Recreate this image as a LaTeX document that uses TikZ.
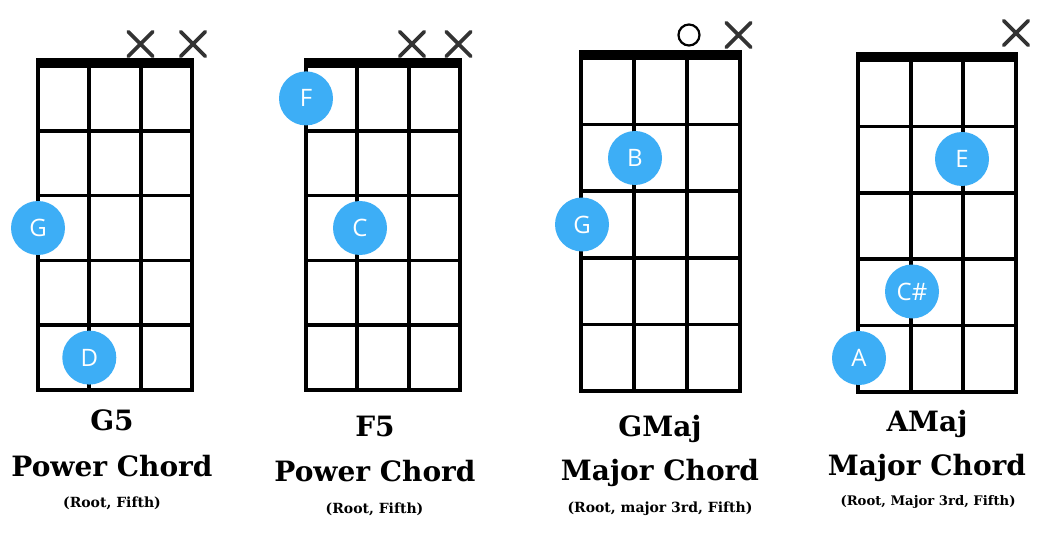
\documentclass[tikz,border=0pt]{standalone}
\usepackage{fontspec}
\setmainfont{DejaVu Serif}
\newfontfamily\fingfamily{Open Sans}
\usetikzlibrary{shapes.misc}
\definecolor{fingblue}{HTML}{3DAEF6}
\definecolor{muteclr}{HTML}{333333}
\tikzset{
  frame/.style={line width=4.2pt, line cap=rect},
  fret/.style={line width=3.5pt},
  nutbar/.style={fill=black, draw=none},
  fing/.style={circle, fill=fingblue, minimum size=54pt, inner sep=0pt, text=white,
    font=\fingfamily\fontsize{24}{26}\selectfont},
  mutex/.style={cross out, draw=muteclr, minimum size=21pt, inner sep=0pt, line width=3.6pt, line cap=round},
  opens/.style={circle, draw=black, minimum size=21pt, inner sep=0pt, line width=2.2pt},
  title/.style={anchor=base, font=\bfseries\fontsize{28}{30}\selectfont},
  sub/.style={anchor=base, font=\bfseries\fontsize{14}{16}\selectfont},
}
% #1 left, #2 right, #3 nut top, #4 bottom
\newcommand{\chordgrid}[4]{%
  \pgfmathsetmacro{\gtop}{#3+8}%
  \pgfmathsetmacro{\gh}{(#4-\gtop)/5}%
  \pgfmathsetmacro{\gw}{(#2-#1)/3}%
  \foreach \k in {1,...,4}{\draw[fret] (#1,{\gtop+\k*\gh}) -- (#2,{\gtop+\k*\gh});}
  \foreach \k in {1,2}{\draw[frame] ({#1+\k*\gw},\gtop) -- ({#1+\k*\gw},#4);}
  \draw[frame] (#1,\gtop) rectangle (#2,#4);
  \fill[nutbar] ({#1-2.1},#3) rectangle ({#2+2.1},{\gtop+0.5});
}
\begin{document}
\begin{tikzpicture}[x=1pt,y=-1pt]
\useasboundingbox (0,0) rectangle (1064,537);
\fill[white] (0,0) rectangle (1064,537);

% Chart 1: G5
\chordgrid{38}{192}{58}{390}
\node[mutex] (m1a) at (140.5,44) {};
\node[mutex] (m1b) at (193,44) {};
\node[fing] (g1) at (38,228) {G};
\node[fing] (d1) at (89.3,357.6) {D};
\node[title] (t1) at (112,430) {G5};
\node[title] (s1) at (112,476) {Power Chord};
\node[sub] (r1) at (112,507) {(Root, Fifth)};

% Chart 2: F5
\chordgrid{306}{460}{58}{390}
\node[mutex] (m2a) at (412,44) {};
\node[mutex] (m2b) at (458.5,44) {};
\node[fing] (f2) at (306,98.4) {F};
\node[fing] (c2) at (360,228) {C};
\node[title] (t2) at (375,436.5) {F5};
\node[title] (s2) at (375,481.5) {Power Chord};
\node[sub] (r2) at (374.5,513) {(Root, Fifth)};

% Chart 3: GMaj
\chordgrid{581}{740}{50}{391}
\node[opens] (o3) at (689,35) {};
\node[mutex] (m3) at (738.5,35) {};
\node[fing] (b3) at (635,158) {B};
\node[fing] (g3) at (582,224.5) {G};
\node[title] (t3) at (660,436.5) {GMaj};
\node[title] (s3) at (660,480.5) {Major Chord};
\node[sub] (r3) at (660,512.5) {(Root, major 3rd, Fifth)};

% Chart 4: AMaj
\chordgrid{858}{1016}{52}{392}
\node[mutex] (m4) at (1016,33) {};
\node[fing] (e4) at (962,159) {E};
\node[fing] (cs4) at (912,291.5) {C\#};
\node[fing] (a4) at (859,358) {A};
\node[title] (t4) at (927,431.5) {AMaj};
\node[title] (s4) at (927,475) {Major Chord};
\node[sub, font=\bfseries\fontsize{13.2}{15}\selectfont] (r4) at (928,505) {(Root, Major 3rd, Fifth)};
\end{tikzpicture}
\end{document}
